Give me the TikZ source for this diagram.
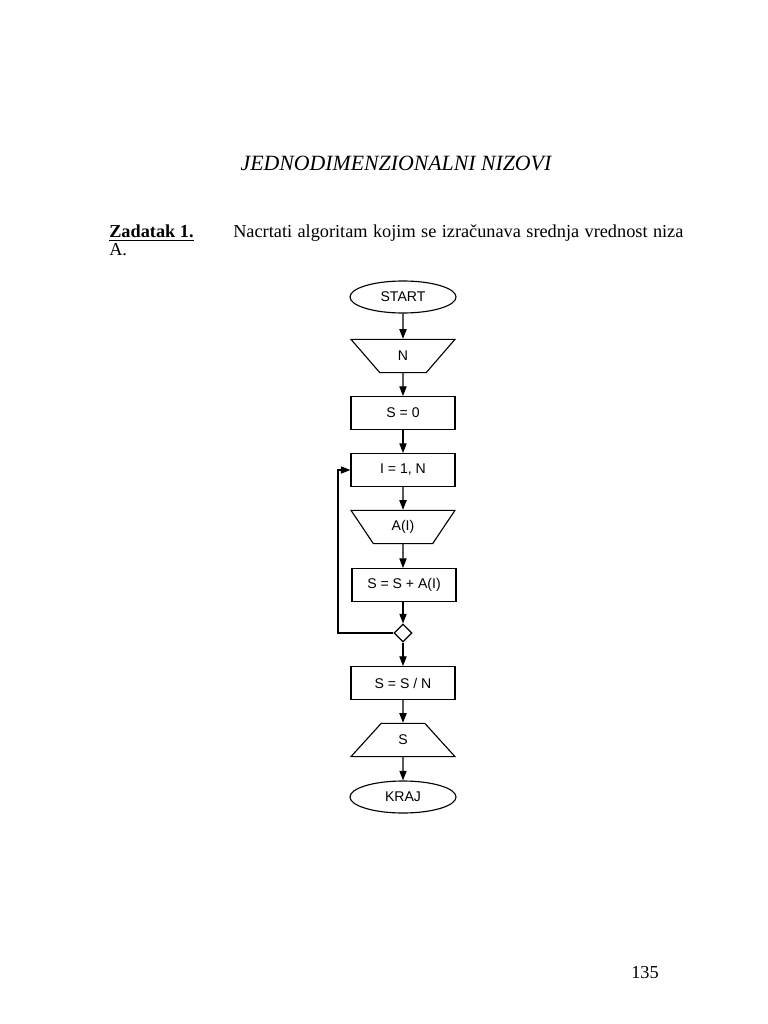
\documentclass[tikz,border=0pt]{standalone}
\usepackage{fontspec}
\setmainfont{Liberation Serif}
\newfontfamily\fcfont{Liberation Sans}
\usetikzlibrary{arrows.meta,shapes.geometric}
\definecolor{fcInk}{HTML}{000000}
\tikzset{
  fc line/.style={draw=fcInk, line width=0.8pt},
  fc arrow/.style={fc line, -{Triangle[length=2.4mm, width=1.8mm]}},
  fc box/.style={rectangle, fc line, minimum width=2.6cm, minimum height=0.82cm, inner sep=0pt, font=\fcfont\fontsize{10}{12}\selectfont},
  fc term/.style={ellipse, fc line, minimum width=2.65cm, minimum height=0.8cm, inner sep=0pt, font=\fcfont\fontsize{10}{12}\selectfont},
  fc input/.style={trapezium, fc line, trapezium stretches=true, trapezium left angle=57, trapezium right angle=57,
    shape border rotate=180, minimum width=2.6cm, minimum height=0.83cm, inner sep=0pt, font=\fcfont\fontsize{10}{12}\selectfont},
  fc output/.style={fc input, shape border rotate=0},
  fc test/.style={diamond, fc line, minimum size=0.45cm, inner sep=0pt},
  page text/.style={font=\fontsize{13}{15}\selectfont, inner sep=0pt},
}

\begin{document}
\begin{tikzpicture}[x=0.025cm, y=-0.025cm]
  % page frame of the scan
  \useasboundingbox (0,0) rectangle (768,1024);

  % Heading and task text
  \node[page text, font=\fontsize{15.5}{18}\selectfont\itshape, anchor=base] (title) at (396,171) {JEDNODIMENZIONALNI NIZOVI};
  \node[page text, anchor=base west] (task) at (109,238) {\underline{\textbf{Zadatak 1.}}};
  \node[page text, anchor=base west] (taskline) at (233,238) {\makebox[11.25cm][s]{Nacrtati algoritam kojim se izračunava srednja vrednost niza}};
  \node[page text, anchor=base west] (tasktail) at (109,256) {A.};

  % Flowchart, top to bottom
  \node[fc term]   (start) at (403,297) {START};
  \node[fc input]  (readn) at (403,356) {N};
  \node[fc box]    (init)  at (403,413) {S = 0};
  \node[fc box]    (loop)  at (403,470) {I = 1, N};
  \node[fc input]  (reada) at (403,527) {A(I)};
  \node[fc box]    (sum)   at (404,585) {S = S + A(I)};
  \node[fc test]   (next)  at (403,633) {};
  \node[fc box]    (mean)  at (403,683) {S = S / N};
  \node[fc output] (print) at (403,740) {S};
  \node[fc term]   (stop)  at (403,797) {KRAJ};

  % Connectors
  \draw[fc arrow] (start) -- (readn);
  \draw[fc arrow] (readn) -- (init);
  \draw[fc arrow] (init) -- (loop);
  \draw[fc arrow] (loop) -- (reada);
  \draw[fc arrow] (reada) -- (sum.north -| reada.south);
  \draw[fc arrow] (sum.south -| next.north) -- (next);
  \draw[fc arrow] (next) -- (mean);
  \draw[fc arrow] (mean) -- (print);
  \draw[fc arrow] (print) -- (stop);

  % Back edge of the loop
  \coordinate (back) at (338,633);
  \draw[fc arrow] (next.west) -- (back) |- (loop.west);

  % Page number
  \node[page text, anchor=base] (pagenum) at (645,978) {135};
\end{tikzpicture}
\end{document}
